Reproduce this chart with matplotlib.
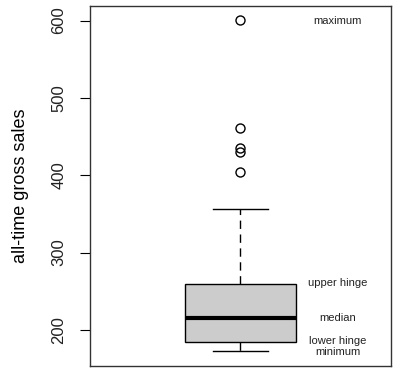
import matplotlib
matplotlib.use('Agg')
import matplotlib.pyplot as plt

plt.rcParams['font.family'] = ['Liberation Sans', 'DejaVu Sans']

# summary statistics
lower_whisker = 173
lower_hinge = 185
median = 216
upper_hinge = 260
upper_whisker = 357
outliers = [404, 430, 435, 461, 601]

# labels on the right and where they sit
label_names = ['maximum', 'upper hinge', 'median', 'lower hinge', 'minimum']
label_values = [600, 261, 216, 186, 171]

stats = [dict(whislo=lower_whisker, q1=lower_hinge, med=median,
              q3=upper_hinge, whishi=upper_whisker, fliers=outliers)]

fig = plt.figure(figsize=(4.0, 3.74), dpi=100)
ax = fig.add_axes([0.225, 0.0214, 0.752, 0.963])

ax.bxp(stats, positions=[1], widths=0.4,
       patch_artist=True,
       boxprops=dict(facecolor='#cccccc', edgecolor='black', linewidth=1),
       medianprops=dict(color='black', linewidth=3),
       whiskerprops=dict(color='black', linewidth=1, linestyle=(0, (6, 4))),
       capprops=dict(color='black', linewidth=1),
       capwidths=0.2,
       flierprops=dict(marker='o', markerfacecolor='none', markeredgecolor='black',
                       markersize=6.5, markeredgewidth=1))

for name, val in zip(label_names, label_values):
    ax.text(1.35, val, name, ha='center', va='center', fontsize=8, color='#222222')

ax.set_xlim(0.46, 1.54)
ax.set_ylim(153.4, 619)
ax.set_xticks([])
ax.set_yticks([200, 300, 400, 500, 600])
ax.tick_params(axis='y', direction='out', length=7, width=0.8, labelsize=12,
               pad=10, labelcolor='#222222')
for lbl in ax.get_yticklabels():
    lbl.set_rotation(90)
    lbl.set_va('center')
ax.set_ylabel('all-time gross sales', fontsize=13, labelpad=16)
for s in ax.spines.values():
    s.set_linewidth(1)
    s.set_edgecolor('#333333')

fig.savefig('out.png', dpi=100)
